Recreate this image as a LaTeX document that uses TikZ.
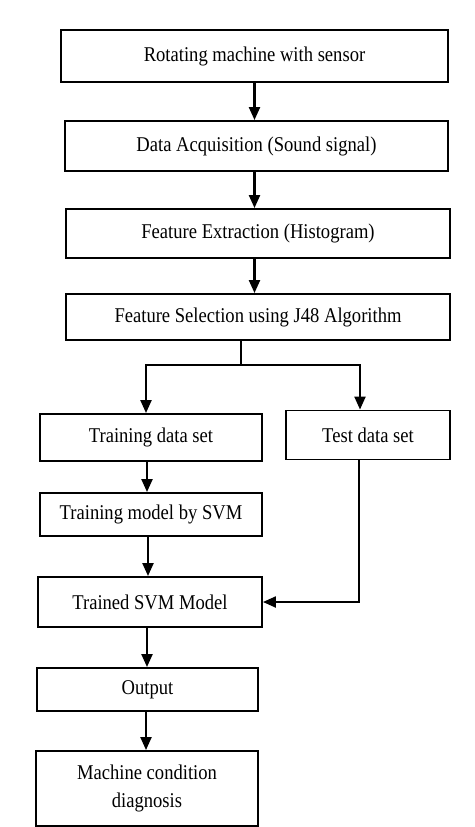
\documentclass[tikz,border=0pt]{standalone}
\usepackage{fontspec}
\setmainfont[FakeStretch=0.885]{Liberation Serif}
\usetikzlibrary{arrows.meta}

\tikzset{
  box/.style={draw, line width=1.9pt, inner sep=0pt, align=center,
    font=\fontsize{21}{28}\selectfont},
  arr/.style={line width=2.2pt, -{Triangle[length=13pt,width=11pt]}},
}

\begin{document}
\begin{tikzpicture}[x=1pt, y=-1pt]
        \useasboundingbox (0,0) rectangle (474,827);

        \node[box, minimum width=387pt, minimum height=52pt] (rot) at (254.5,56) {Rotating machine with sensor};
        \node[box, minimum width=383pt, minimum height=50pt] (acq) at (256.5,146) {Data Acquisition (Sound signal)};
        \node[box, minimum width=384pt, minimum height=49pt] (feat) at (258,233.5) {Feature Extraction (Histogram)};
        \node[box, minimum width=384pt, minimum height=46pt] (sel) at (258,317) {Feature Selection using J48 Algorithm};

        \node[box, minimum width=222pt, minimum height=47pt] (train) at (151,437.5) {Training data set};
        \node[box, minimum width=164pt, minimum height=49pt] (test) at (368,435) {Test data set};
        \node[box, minimum width=222pt, minimum height=43pt] (model) at (151,514.5) {Training model by SVM};
        \node[box, minimum width=224pt, minimum height=50pt] (trained) at (150,602) {Trained SVM Model};
        \node[box, minimum width=221pt, minimum height=43pt] (out) at (147.5,689.5) {Output};
        \node[box, minimum width=222pt, minimum height=75pt] (diag) at (147,788.5) {Machine condition\\diagnosis};

        \coordinate (mid) at (254.5,0);
        \coordinate (split) at (241,365);

        \draw[arr] (rot.south -| mid) -- (acq.north -| mid);
        \draw[arr] (acq.south -| mid) -- (feat.north -| mid);
        \draw[arr] (feat.south -| mid) -- (sel.north -| mid);

        % split to train and test
        \draw[line width=1.9pt] (sel.south -| split) -- (split);
        \draw[arr] (split) -| ([xshift=-5pt]train.north);
        \draw[arr] (split) -| ([xshift=-8pt]test.north);

        \draw[arr] ([xshift=-4pt]train.south) -- ([xshift=-4pt]model.north);
        \draw[arr] ([xshift=-3pt]model.south) -- ([xshift=-2pt]trained.north);
        \draw[arr] ([xshift=-3pt]trained.south) -- ([xshift=-0.5pt]out.north);
        \draw[arr] ([xshift=-1.5pt]out.south) -- ([xshift=-1pt]diag.north);

        \draw[arr] ([xshift=-9pt]test.south) |- (trained.east); % test path
    \end{tikzpicture}
\end{document}
